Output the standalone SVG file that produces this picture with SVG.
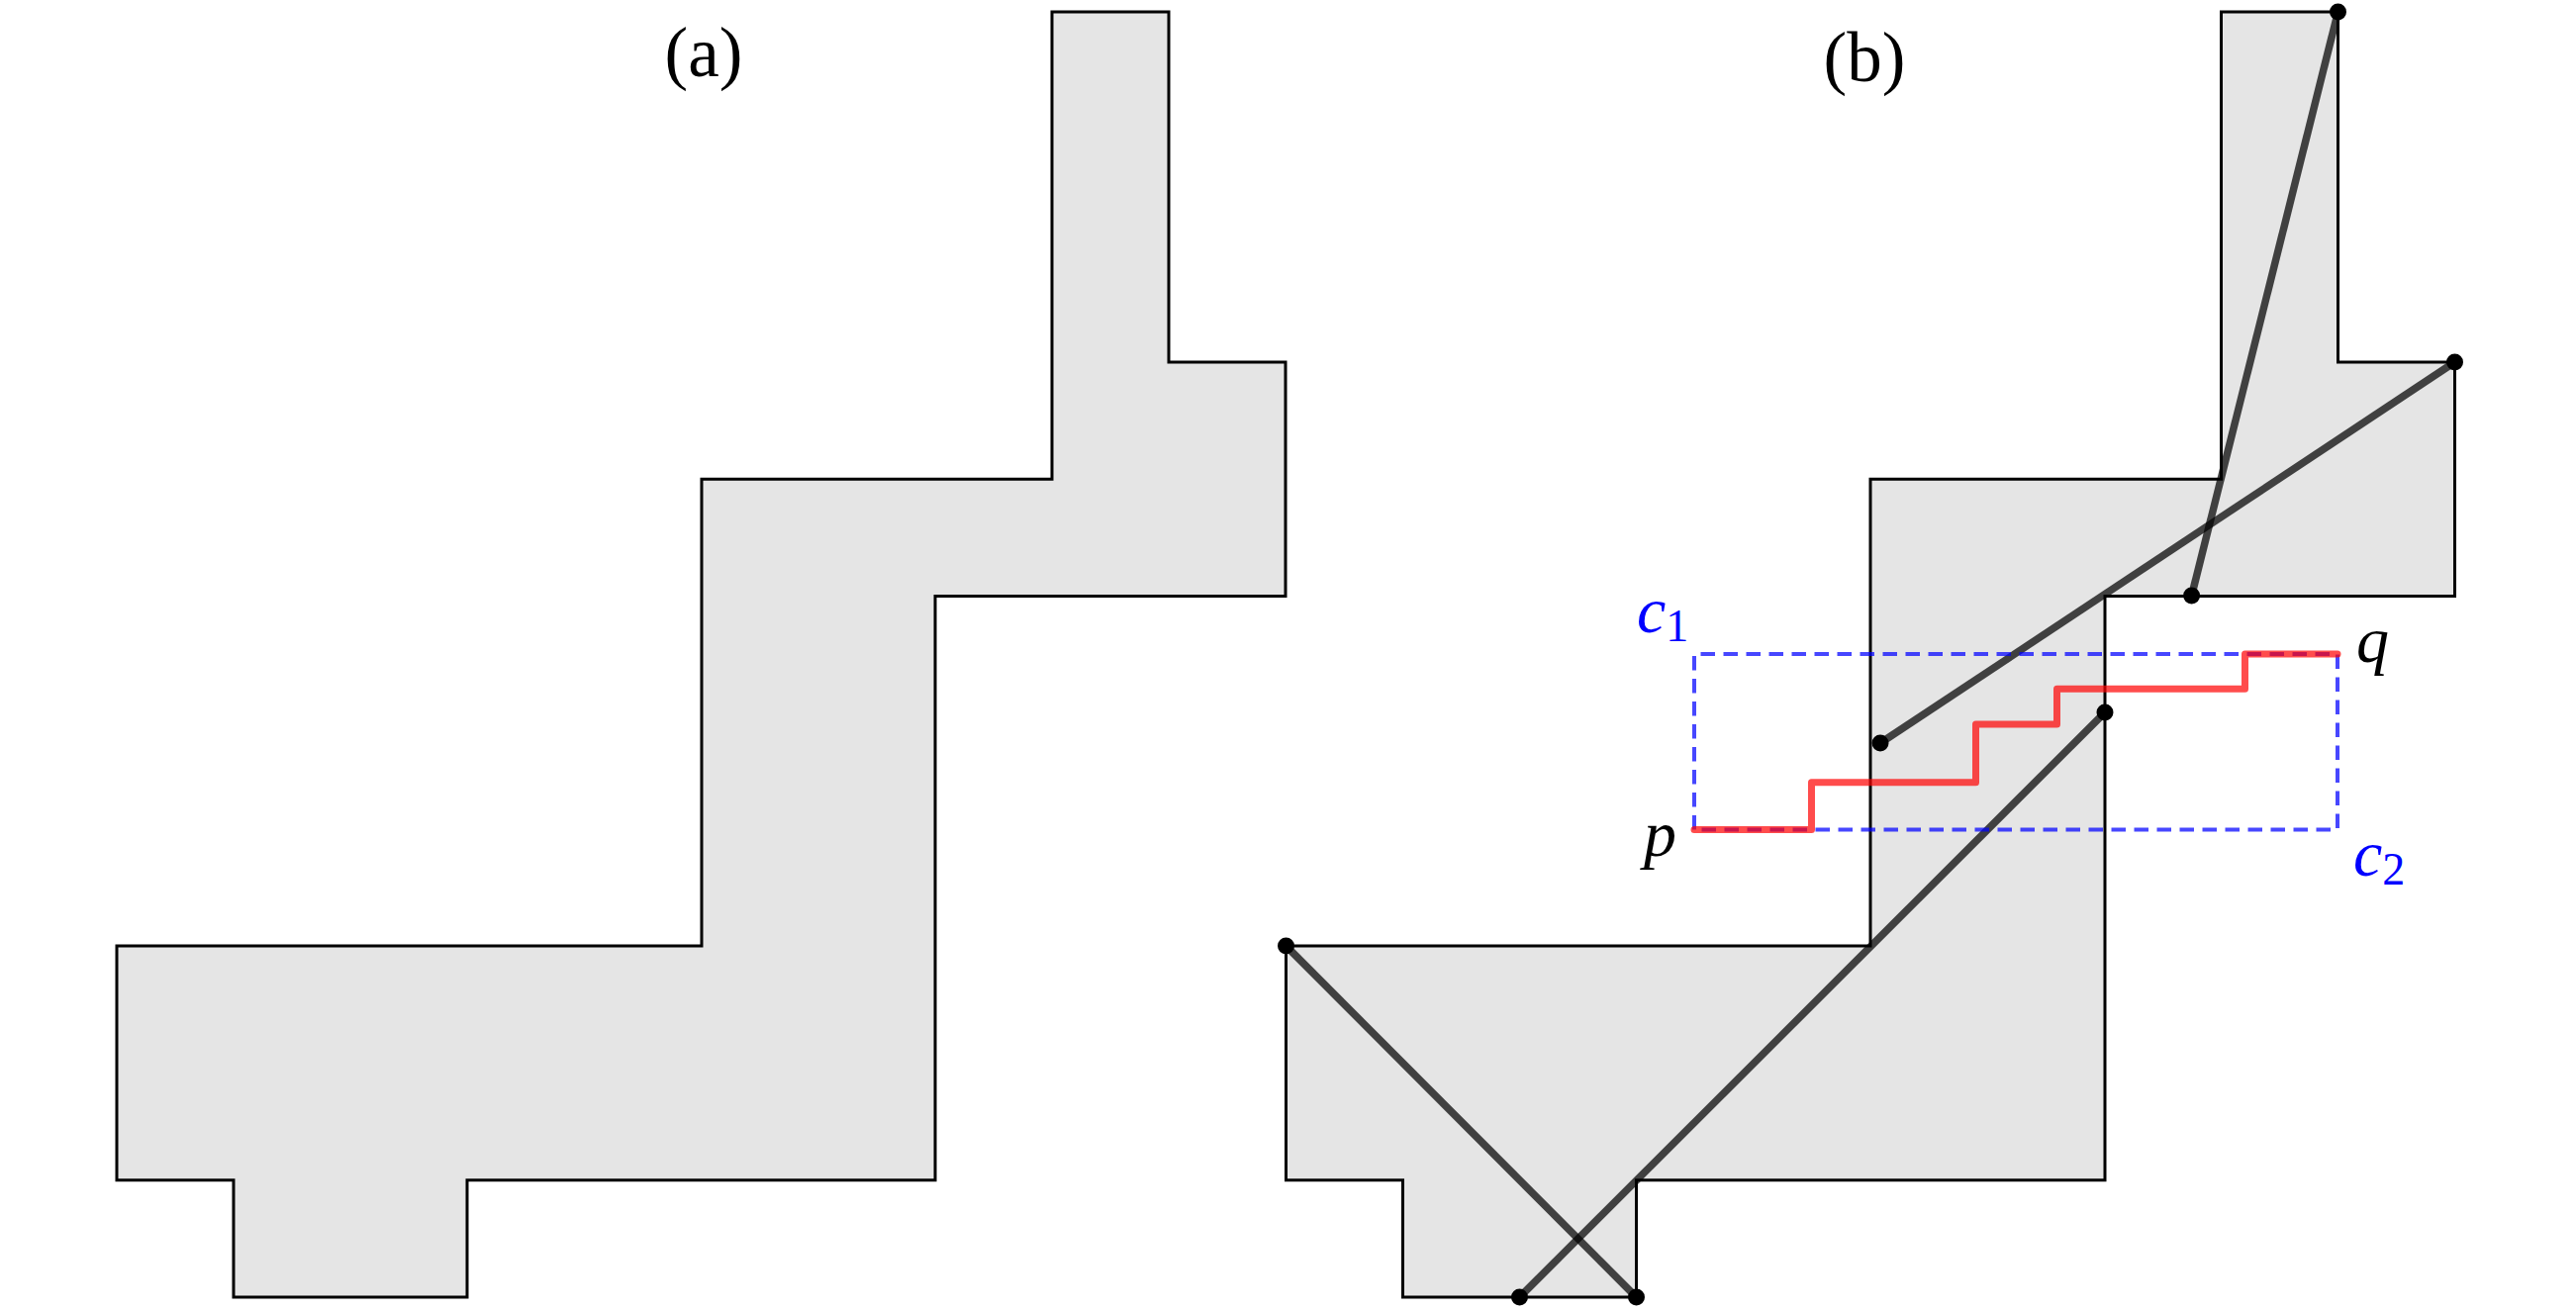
<svg xmlns="http://www.w3.org/2000/svg" width="2603" height="1325" viewBox="0 0 2603 1325">
<defs><style>
.poly{fill:#e5e5e5;stroke:#000;stroke-width:3;stroke-linejoin:miter}
.seg{stroke:#000;stroke-opacity:.72;stroke-width:7.5;fill:none}
.dot{fill:#000}
.red{fill:none;stroke:#f00;stroke-opacity:.7;stroke-width:7;stroke-linejoin:round;stroke-linecap:round}
.box{fill:none;stroke:#00f;stroke-opacity:.72;stroke-width:4;stroke-dasharray:14.5 8.5}
text{font-family:"Liberation Serif","Times New Roman",serif;fill:#000}
.cap{font-size:71px;text-anchor:middle}
.m{font-size:66px;font-style:italic}
.s{font-size:46px}
.b{fill:#00f}
</style></defs>
<rect width="2603" height="1325" fill="#fff"/>
<g id="polygon-a"><polygon class="poly" points="1063,12 1181,12 1181,366 1299,366 1299,602.5 945,602.5 945,1192.7 472,1192.7 472,1311 236,1311 236,1192.7 118,1192.7 118,956 709,956 709,484.3 1063,484.3"/></g>
<g id="polygon-b"><polygon class="poly" points="2244.5,12 2362.5,12 2362.5,366 2480.5,366 2480.5,602.5 2127,602.5 2127,1192.7 1653.5,1192.7 1653.5,1311 1417.5,1311 1417.5,1192.7 1299.5,1192.7 1299.5,956 1890,956 1890,484.3 2244.5,484.3"/></g>
<g id="label-a"><text class="cap" x="711" y="77">(a)</text></g>
<g id="label-b"><text class="cap" x="1884" y="82">(b)</text></g>
<g id="connectors">
<line class="seg" x1="2362.5" y1="12" x2="2214.6" y2="602"/>
<line class="seg" x1="2480.5" y1="366" x2="1900" y2="751"/>
<line class="seg" x1="2127" y1="720" x2="1535.5" y2="1311"/>
<line class="seg" x1="1299.5" y1="956" x2="1653.5" y2="1311"/>
<path class="box" d="M1712 838.5V661H2362V838.5Z"/>
<path class="red" d="M1712 838.5H1830.5V790.7H1996.5V732H2078.5V696.3H2268.5V661H2362"/>
</g>
<g id="points">
<circle class="dot" cx="2362.5" cy="12" r="8.5"/>
<circle class="dot" cx="2480.5" cy="366" r="8.5"/>
<circle class="dot" cx="2214.6" cy="602" r="8.5"/>
<circle class="dot" cx="1900" cy="751" r="8.5"/>
<circle class="dot" cx="2127" cy="720" r="8.5"/>
<circle class="dot" cx="1299.5" cy="956" r="8.5"/>
<circle class="dot" cx="1535.5" cy="1311" r="8.5"/>
<circle class="dot" cx="1653.5" cy="1311" r="8.5"/>
</g>
<g id="label-c1"><text class="m b" x="1654" y="639">c<tspan class="s" font-style="normal" dy="9">1</tspan></text></g>
<g id="label-c2"><text class="m b" x="2378" y="885">c<tspan class="s" font-style="normal" dy="9">2</tspan></text></g>
<g id="label-p"><text class="m" x="1661" y="865">p</text></g>
<g id="label-q"><text class="m" x="2381" y="669">q</text></g>
</svg>
